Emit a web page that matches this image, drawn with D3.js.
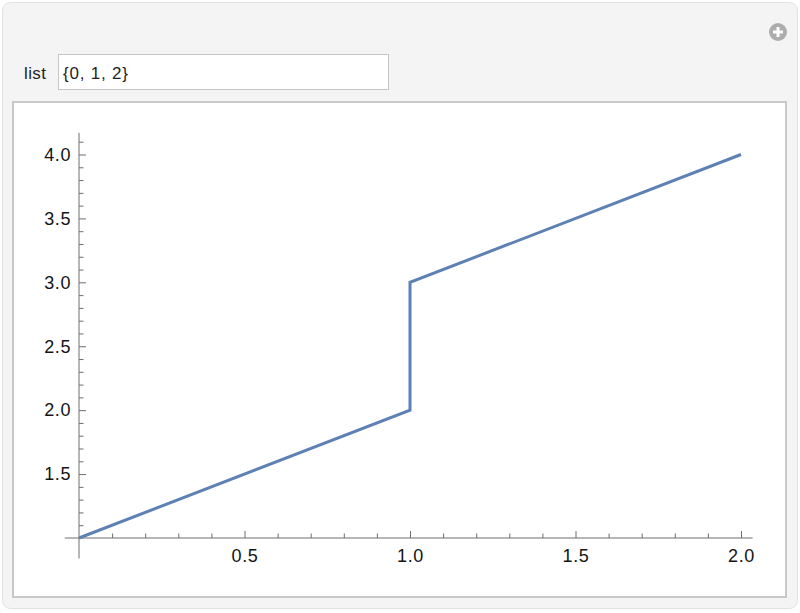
<!DOCTYPE html>
<html>
<head>
<meta charset="utf-8">
<script src="https://cdn.jsdelivr.net/npm/d3@7"></script>
<style>
  body { margin: 0; background: #ffffff; }
  svg { display: block; font-family: Helvetica, "Liberation Sans", Arial, sans-serif; }
  .tick text { font-size: 18px; fill: #141414; letter-spacing: 0.6px; }
</style>
</head>
<body>
<svg id="chart" width="800" height="613"></svg>
<script>
// --- Data ---
const controlLabel = 'list';
const controlValue = '{0, 1, 2}';
const xValues = [0, 1, 1, 2];
const yValues = [1, 2, 3, 4];
const xDomain = [0, 2];
const yDomain = [1, 4];
const xAxisExtent = [-0.043, 2.035];
const yAxisExtent = [0.84, 4.17];
const xMajorTicks = [0.5, 1.0, 1.5, 2.0];
const xMinorTicks = [0.1, 0.2, 0.3, 0.4, 0.6, 0.7, 0.8, 0.9, 1.1, 1.2, 1.3, 1.4, 1.6, 1.7, 1.8, 1.9];
const yMajorTicks = [1.5, 2.0, 2.5, 3.0, 3.5, 4.0];
const yMinorTicks = [1.1, 1.2, 1.3, 1.4, 1.6, 1.7, 1.8, 1.9, 2.1, 2.2, 2.3, 2.4, 2.6, 2.7, 2.8, 2.9,
                     3.1, 3.2, 3.3, 3.4, 3.6, 3.7, 3.8, 3.9, 4.1];

const LINE_COLOR = '#5e81b5';
const AXIS_COLOR = '#6e6e6e';

const svg = d3.select('#chart');

// --- Panel chrome ---
svg.append('rect')
    .attr('x', 2.5).attr('y', 2.5).attr('width', 795).attr('height', 606)
    .attr('rx', 8).attr('fill', '#f4f4f4').attr('stroke', '#e2e2e2');

// plus button
const plus = svg.append('g').attr('transform', 'translate(778,32)');
plus.append('circle').attr('r', 9).attr('fill', '#adadad');
plus.append('rect').attr('x', -5).attr('y', -1.5).attr('width', 10).attr('height', 3).attr('fill', '#fff');
plus.append('rect').attr('x', -1.5).attr('y', -5).attr('width', 3).attr('height', 10).attr('fill', '#fff');

// control row
svg.append('text').attr('x', 24).attr('y', 79)
    .style('font-size', '17px').style('fill', '#1e1e1e').style('letter-spacing', '0.4px').text(controlLabel);
svg.append('rect')
    .attr('x', 58.5).attr('y', 54.5).attr('width', 330).attr('height', 35)
    .attr('fill', '#fff').attr('stroke', '#c4c4c4');
svg.append('text').attr('x', 63).attr('y', 78.5)
    .style('font-size', '17px').style('fill', '#1e1e1e').style('letter-spacing', '0.8px').text(controlValue);

// plot panel
svg.append('rect')
    .attr('x', 13).attr('y', 102).attr('width', 773).attr('height', 495)
    .attr('fill', '#fff').attr('stroke', '#c8c8c8').attr('stroke-width', 2);

// --- Scales ---
const x = d3.scaleLinear().domain(xDomain).range([79, 741]);
const y = d3.scaleLinear().domain(yDomain).range([538, 154.5]);

const origin = { x: x(xDomain[0]), y: y(yDomain[0]) };

// --- Axes ---
function styleAxis(g) {
    g.select('.domain').remove();
    g.selectAll('.tick line').attr('stroke', AXIS_COLOR);
}

svg.append('g').attr('transform', `translate(0,${origin.y})`)
    .call(d3.axisBottom(x).tickValues(xMinorTicks).tickSize(-4.5).tickFormat(''))
    .call(styleAxis);
svg.append('g').attr('transform', `translate(0,${origin.y})`)
    .call(d3.axisBottom(x).tickValues(xMajorTicks).tickSize(-7).tickPadding(11).tickFormat(d3.format('.1f')))
    .call(styleAxis);

svg.append('g').attr('transform', `translate(${origin.x},0)`)
    .call(d3.axisLeft(y).tickValues(yMinorTicks).tickSize(-4.5).tickFormat(''))
    .call(styleAxis);
svg.append('g').attr('transform', `translate(${origin.x},0)`)
    .call(d3.axisLeft(y).tickValues(yMajorTicks).tickSize(-7).tickPadding(8).tickFormat(d3.format('.1f')))
    .call(styleAxis);

svg.selectAll('.tick text').attr('fill', '#141414');

// axis lines
svg.append('line')
    .attr('x1', x(xAxisExtent[0])).attr('x2', x(xAxisExtent[1]))
    .attr('y1', origin.y).attr('y2', origin.y)
    .attr('stroke', AXIS_COLOR).attr('stroke-width', 1);
svg.append('line')
    .attr('x1', origin.x).attr('x2', origin.x)
    .attr('y1', y(yAxisExtent[0])).attr('y2', y(yAxisExtent[1]))
    .attr('stroke', AXIS_COLOR).attr('stroke-width', 1);

// --- Line ---
const points = xValues.map((v, i) => [v, yValues[i]]);
svg.append('path')
    .datum(points)
    .attr('d', d3.line().x(d => x(d[0])).y(d => y(d[1])))
    .attr('fill', 'none')
    .attr('stroke', LINE_COLOR)
    .attr('stroke-width', 3)
    .attr('stroke-linejoin', 'miter');
</script>
</body>
</html>
